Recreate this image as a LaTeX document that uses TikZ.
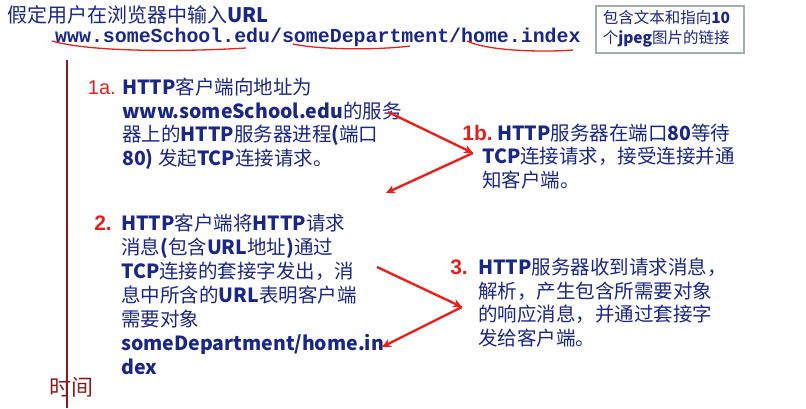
\documentclass[tikz,border=0pt]{standalone}
\usepackage{fontspec}
\setmainfont{Noto Sans CJK SC}
\newfontfamily\monof{Liberation Mono}
\newfontfamily\labf{Liberation Sans}
\usetikzlibrary{arrows.meta}
\definecolor{navy}{HTML}{1B2785}
\definecolor{arrred}{HTML}{E8211D}
\definecolor{lblred}{HTML}{E0201C}
\definecolor{darkred}{HTML}{8B1A1A}
\definecolor{boxborder}{HTML}{9DB3AA}
\newcommand\bx[1]{{\bfseries #1}}
\tikzset{
  body/.style={anchor=north west, inner sep=0pt, align=left, text=navy,
    font=\fontsize{19.5}{23.5}\selectfont},
  numlbl/.style={anchor=base east, inner sep=0pt, text=lblred,
    font=\labf\bfseries\fontsize{21}{23}\selectfont},
  flow/.style={draw=arrred, line width=2.4pt, -{Stealth[length=9pt,width=8.5pt]}},
  wavy/.style={draw=arrred, line width=1.3pt},
}
\begin{document}
\begin{tikzpicture}[x=1pt,y=-1pt]
\useasboundingbox (0,0) rectangle (806,408);
\fill[white] (0,0) rectangle (806,408);

% title
\node[anchor=west, inner sep=0pt, text=navy, font=\fontsize{20}{25}\selectfont]
  (title) at (7,15) {假定用户在浏览器中输入\bx{URL}};
\node[anchor=west, inner sep=0pt, text=navy, font=\monof\bfseries\fontsize{19.9}{24}\selectfont]
  (url) at (55,37) {www.someSchool.edu/someDepartment/home.index};

% red underlines
\draw[wavy] (52,41) .. controls (90,52) and (180,52) .. (246,48);
\draw[wavy] (293,44) .. controls (320,50) and (380,50) .. (410,46);
\draw[wavy] (467,41) .. controls (490,52) and (550,52) .. (573,50);

% note box
\node[draw=boxborder, line width=1.5pt, anchor=north west, minimum height=47pt,
  align=left, inner xsep=7pt, inner ysep=2pt, text width=134pt, text=navy,
  font=\fontsize{15.5}{20}\selectfont]
  (note) at (595,5) {包含文本和指向\bx{10}\\个\bx{jpeg}图片的链接};

% time axis
\coordinate (ttop) at (67,60);
\coordinate (tbot) at (67,408);
\draw[darkred, line width=1.5pt] (ttop) -- (tbot);
\node[inner sep=0pt, text=darkred, font=\fontsize{22}{26}\selectfont] (time) at (71,387) {时间};

% step 1a
\node[anchor=base east, inner sep=0pt, text=lblred, font=\labf\fontsize{20}{23}\selectfont]
  (l1a) at (116,94.5) {1a.};
\node[body] (s1a) at (122,78) {\bx{HTTP}客户端向地址为\\
\bx{www.someSchool.edu}的服务\\
器上的\bx{HTTP}服务器进程\bx{(}端口\\
\bx{80)} 发起\bx{TCP}连接请求。};

% step 1b
\node[numlbl] (l1b) at (493,140) {1b.};
\node[body] (s1b) at (482,123.5) {\hspace*{15pt}\bx{HTTP}服务器在端口\bx{80}等待\\
\bx{TCP}连接请求，接受连接并通\\
知客户端。};

% step 2
\node[numlbl] (l2) at (112,230.5) {2.};
\node[body, font=\fontsize{19.5}{24}\selectfont] (s2) at (121,214) {\bx{HTTP}客户端将\bx{HTTP}请求\\
消息\bx{(}包含\bx{URL}地址\bx{)}通过\\
\bx{TCP}连接的套接字发出，消\\
息中所含的\bx{URL}表明客户端\\
需要对象\\
\bx{someDepartment/home.in}\\
\bx{dex}};

% step 3
\node[numlbl] (l3) at (468,274.5) {3.};
\node[body] (s3) at (478,258) {\bx{HTTP}服务器收到请求消息，\\
解析，产生包含所需要对象\\
的响应消息，并通过套接字\\
发给客户端。};

% arrows
\coordinate (a1s) at (388,112);
\coordinate (a1m) at (473,153);
\coordinate (a1e) at (386,193);
\coordinate (a2s) at (377,267);
\coordinate (a2m) at (462,307);
\coordinate (a2e) at (382,347);
\draw[flow] (a1s) -- (a1m);
\draw[flow] (a1m) -- (a1e);
\draw[flow] (a2s) -- (a2m);
\draw[flow] (a2m) -- (a2e);
\end{tikzpicture}
\end{document}
